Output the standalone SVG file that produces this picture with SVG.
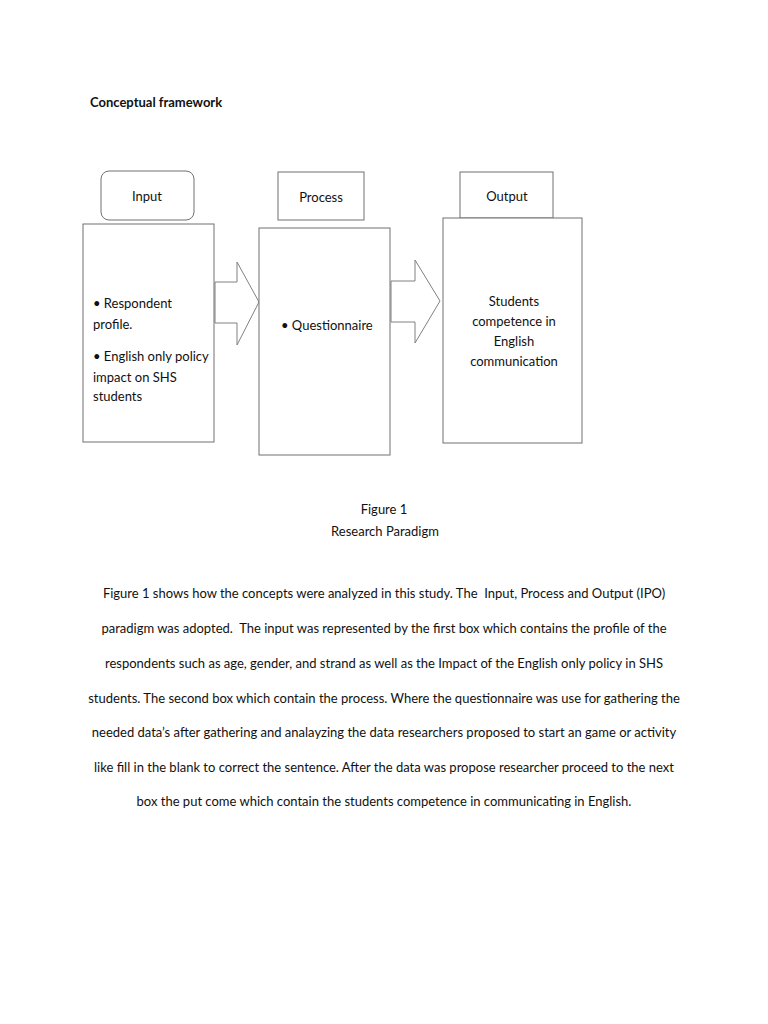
<svg xmlns="http://www.w3.org/2000/svg" width="768" height="1024" viewBox="0 0 768 1024">
<style>
.box{fill:#ffffff;stroke:#707070;stroke-width:1}
.arr{fill:#ffffff;stroke:#808080;stroke-width:1;stroke-linejoin:miter}
text{font-family:Lato,"Liberation Sans",sans-serif;fill:#111111;font-size:13px;white-space:pre}
.c{text-anchor:middle}
.b{font-weight:bold}
</style>
<rect width="768" height="1024" fill="#ffffff"/>
<text class="b" x="90" y="107">Conceptual framework</text>

<g id="connectors">
<path class="arr" d="M215,282 H237 V262 L259,302 L237,345 V323 H215 Z"/>
<path class="arr" d="M391,281 H415 V260 L440,301 L415,343 V322 H391 Z"/>
</g>

<g id="input-label">
<rect class="box" x="101" y="171" width="93" height="49" rx="8"/>
<text class="c" x="147" y="201">Input</text>
</g>
<g id="input-box">
<rect class="box" x="83" y="224" width="131" height="218"/>
<text x="93" y="308">• Respondent</text>
<text x="93" y="329">profile.</text>
<text x="93" y="361">• English only policy</text>
<text x="93" y="382">impact on SHS</text>
<text x="93" y="401">students</text>
</g>

<g id="process-label">
<rect class="box" x="278" y="172" width="86" height="48"/>
<text class="c" x="321" y="202">Process</text>
</g>
<g id="process-box">
<rect class="box" x="259" y="228" width="131" height="227"/>
<text x="281" y="330">• Questionnaire</text>
</g>

<g id="output-label">
<rect class="box" x="460" y="172" width="93" height="46"/>
<text class="c" x="507" y="201">Output</text>
</g>
<g id="output-box">
<rect class="box" x="443" y="218" width="139" height="225"/>
<text class="c" x="514" y="306">Students</text>
<text class="c" x="514" y="326">competence in</text>
<text class="c" x="514" y="346">English</text>
<text class="c" x="514" y="366">communication</text>
</g>

<text class="c" x="384" y="514">Figure 1</text>
<text class="c" x="385" y="536">Research Paradigm</text>

<g id="paragraph">
<text class="c" x="384" y="598">Figure 1 shows how the concepts were analyzed in this study. The  Input, Process and Output (IPO)</text>
<text class="c" x="384" y="633">paradigm was adopted.  The input was represented by the first box which contains the profile of the</text>
<text class="c" x="384" y="668">respondents such as age, gender, and strand as well as the Impact of the English only policy in SHS</text>
<text class="c" x="384" y="703">students. The second box which contain the process. Where the questionnaire was use for gathering the</text>
<text class="c" x="384" y="737">needed data’s after gathering and analayzing the data researchers proposed to start an game or activity</text>
<text class="c" x="384" y="772">like fill in the blank to correct the sentence. After the data was propose researcher proceed to the next</text>
<text class="c" x="384" y="806">box the put come which contain the students competence in communicating in English.</text>
</g>
</svg>
